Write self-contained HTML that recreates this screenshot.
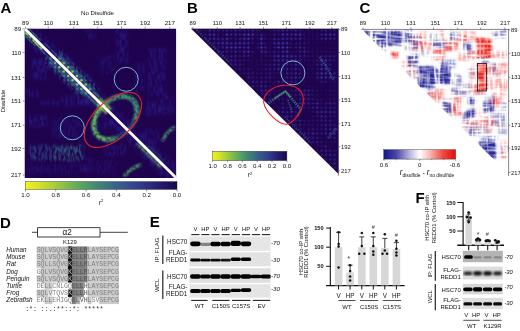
<!DOCTYPE html>
<html lang="en"><head><meta charset="utf-8"><title>Figure</title>
<style>html,body{margin:0;padding:0;background:#fff;}svg{display:block;}</style></head>
<body>
<svg width="520" height="331" viewBox="0 0 520 331" font-family='"Liberation Sans", Arial, sans-serif'>
<defs>
<filter id="b05" x="-20%" y="-20%" width="140%" height="140%"><feGaussianBlur stdDeviation="0.5"/></filter>
<filter id="b06" x="-20%" y="-40%" width="140%" height="180%"><feGaussianBlur stdDeviation="0.75 0.55"/></filter>
<filter id="b08" x="-20%" y="-20%" width="140%" height="140%"><feGaussianBlur stdDeviation="0.8"/></filter>
<filter id="b12" x="-30%" y="-30%" width="160%" height="160%"><feGaussianBlur stdDeviation="1.2"/></filter>
<filter id="b20" x="-30%" y="-30%" width="160%" height="160%"><feGaussianBlur stdDeviation="2"/></filter>
<filter id="b30" x="-40%" y="-40%" width="180%" height="180%"><feGaussianBlur stdDeviation="3"/></filter>
<linearGradient id="gv" x1="0" x2="1" y1="0" y2="0">
<stop offset="0" stop-color="#f2f21c"/><stop offset="0.1" stop-color="#d0e02a"/><stop offset="0.2" stop-color="#a2cc3c"/>
<stop offset="0.3" stop-color="#74b552"/><stop offset="0.4" stop-color="#4f9d68"/><stop offset="0.5" stop-color="#3c8079"/>
<stop offset="0.6" stop-color="#36638a"/><stop offset="0.7" stop-color="#344a8c"/><stop offset="0.8" stop-color="#2e3184"/>
<stop offset="0.9" stop-color="#24196a"/><stop offset="1" stop-color="#18084a"/></linearGradient>
<linearGradient id="gc" x1="0" x2="1" y1="0" y2="0">
<stop offset="0" stop-color="#15158a"/><stop offset="0.18" stop-color="#4a48a8"/><stop offset="0.36" stop-color="#b9b6de"/><stop offset="0.5" stop-color="#ffffff"/>
<stop offset="0.64" stop-color="#f9b8b4"/><stop offset="0.82" stop-color="#f04a44"/><stop offset="1" stop-color="#e80c08"/></linearGradient>
<clipPath id="clipA"><rect x="24.5" y="28.5" width="151.8" height="149.5"/></clipPath>
<clipPath id="clipB"><path d="M191.5 29 L338.5 29 L338.5 174 Z"/></clipPath>
<clipPath id="clipC"><path d="M362 29.6 L508.6 29.6 L508.6 174 Z"/></clipPath>
<filter id="mot" x="-5%" y="-5%" width="110%" height="110%" color-interpolation-filters="sRGB">
<feGaussianBlur in="SourceGraphic" stdDeviation="1.8" result="bl"/>
<feTurbulence type="fractalNoise" baseFrequency="0.44 0.15" numOctaves="2" seed="11" result="n"/>
<feColorMatrix in="n" type="matrix" values="0 0 0 0 1  0 0 0 0 1  0 0 0 0 1  2.4 0 0 0 -0.72" result="na"/>
<feComposite in="bl" in2="na" operator="in" result="m"/>
<feGaussianBlur in="m" stdDeviation="0.75"/></filter>
<filter id="mot2" x="-5%" y="-5%" width="110%" height="110%" color-interpolation-filters="sRGB">
<feGaussianBlur in="SourceGraphic" stdDeviation="0.6" result="bl"/>
<feTurbulence type="fractalNoise" baseFrequency="0.42 0.42" numOctaves="1" seed="5" result="n"/>
<feColorMatrix in="n" type="matrix" values="0 0 0 0 1  0 0 0 0 1  0 0 0 0 1  2.4 0 0 0 -0.35" result="na"/>
<feComposite in="bl" in2="na" operator="in" result="m"/>
<feGaussianBlur in="m" stdDeviation="0.55"/></filter>
<filter id="mot3" x="-5%" y="-5%" width="110%" height="110%" color-interpolation-filters="sRGB">
<feGaussianBlur in="SourceGraphic" stdDeviation="1.0" result="bl"/>
<feTurbulence type="fractalNoise" baseFrequency="0.36 0.36" numOctaves="1" seed="9" result="n"/>
<feColorMatrix in="n" type="matrix" values="0 0 0 0 1  0 0 0 0 1  0 0 0 0 1  2.0 0 0 0 -0.1" result="na"/>
<feComposite in="bl" in2="na" operator="in" result="m"/>
<feGaussianBlur in="m" stdDeviation="0.5"/></filter>
<filter id="motB" x="-5%" y="-5%" width="110%" height="110%" color-interpolation-filters="sRGB">
<feGaussianBlur in="SourceGraphic" stdDeviation="2.0" result="bl"/>
<feTurbulence type="fractalNoise" baseFrequency="0.46 0.46" numOctaves="1" seed="31" result="n"/>
<feColorMatrix in="n" type="matrix" values="0 0 0 0 1  0 0 0 0 1  0 0 0 0 1  3.0 0 0 0 -1.0" result="na"/>
<feComposite in="bl" in2="na" operator="in" result="m"/>
<feGaussianBlur in="m" stdDeviation="0.5"/></filter>
<filter id="mskB" x="-5%" y="-5%" width="110%" height="110%" color-interpolation-filters="sRGB">
<feGaussianBlur in="SourceGraphic" stdDeviation="2.0" result="bl"/>
<feTurbulence type="fractalNoise" baseFrequency="0.10 0.10" numOctaves="2" seed="17" result="n"/>
<feColorMatrix in="n" type="matrix" values="0 0 0 0 1  0 0 0 0 1  0 0 0 0 1  3.0 0 0 0 -0.75" result="na"/>
<feComposite in="bl" in2="na" operator="in"/></filter>
<filter id="motC" x="-5%" y="-5%" width="110%" height="110%" color-interpolation-filters="sRGB">
<feGaussianBlur in="SourceGraphic" stdDeviation="1.0" result="bl"/>
<feTurbulence type="fractalNoise" baseFrequency="0.44 0.07" numOctaves="1" seed="23" result="n1"/>
<feTurbulence type="fractalNoise" baseFrequency="0.07 0.44" numOctaves="1" seed="41" result="n2"/>
<feColorMatrix in="n1" type="matrix" values="0 0 0 0 1  0 0 0 0 1  0 0 0 0 1  3.2 0 0 0 -0.85" result="a1"/>
<feColorMatrix in="n2" type="matrix" values="0 0 0 0 1  0 0 0 0 1  0 0 0 0 1  3.2 0 0 0 -0.85" result="a2"/>
<feComposite in="a1" in2="a2" operator="arithmetic" k1="1" k2="0" k3="0" k4="0" result="na"/>
<feComposite in="bl" in2="na" operator="in" result="m"/>
<feGaussianBlur in="m" stdDeviation="0.35"/></filter>
<pattern id="dotsA" width="2.3" height="2.3" patternUnits="userSpaceOnUse"><rect x="0" y="0" width="1.3" height="1.3" fill="#3a4aa0"/></pattern>
<pattern id="dotsG" width="2.3" height="2.3" patternUnits="userSpaceOnUse"><rect x="0" y="0" width="1.4" height="1.4" fill="#4fb070"/></pattern>
<pattern id="vstr" width="2.3" height="4" patternUnits="userSpaceOnUse"><rect x="0" y="0" width="1.1" height="4" fill="#3c62a0"/></pattern>
<pattern id="vstrG" width="2.3" height="4" patternUnits="userSpaceOnUse"><rect x="0" y="0" width="1.1" height="4" fill="#58b070"/></pattern>
<pattern id="plaid" width="2.3" height="2.3" patternUnits="userSpaceOnUse"><path d="M1.9 0V2.3M0 1.9H2.3" stroke="#fff" stroke-width="0.8" opacity="0.75"/></pattern>
</defs>
<rect width="520" height="331" fill="#fff"/>
<text x="0.4" y="13.1" font-size="15" text-anchor="start" font-weight="bold" font-style="normal" fill="#000">A</text>
<text x="187.0" y="13" font-size="15" text-anchor="start" font-weight="bold" font-style="normal" fill="#000">B</text>
<text x="359.4" y="13.1" font-size="15" text-anchor="start" font-weight="bold" font-style="normal" fill="#000">C</text>
<text x="0.0" y="227.6" font-size="15" text-anchor="start" font-weight="bold" font-style="normal" fill="#000">D</text>
<text x="149.8" y="227" font-size="15" text-anchor="start" font-weight="bold" font-style="normal" fill="#000">E</text>
<text x="415.4" y="203.2" font-size="15" text-anchor="start" font-weight="bold" font-style="normal" fill="#000">F</text>
<g clip-path="url(#clipA)">
<rect x="24.50" y="28.50" width="151.80" height="149.50" fill="#1f034c" stroke="none" stroke-width="0"/>
<g filter="url(#mot)">
<rect x="19.50" y="23.50" width="161.80" height="159.50" fill="#2a1690" stroke="none" stroke-width="0" opacity="0.06"/>
<rect x="32" y="57" width="15" height="23" fill="#2e24a4" opacity="0.5"/>
<rect x="25" y="90" width="14" height="7" fill="#2e24a4" opacity="0.45"/>
<rect x="86" y="29" width="10" height="10" fill="#2e24a4" opacity="0.4"/>
<rect x="116" y="29" width="12" height="34" fill="#2e24a4" opacity="0.5"/>
<rect x="148" y="48" width="18" height="48" fill="#2e24a4" opacity="0.45"/>
<rect x="135" y="62" width="10" height="30" fill="#2e24a4" opacity="0.3"/>
<rect x="100" y="55" width="14" height="20" fill="#2e24a4" opacity="0.3"/>
<rect x="27" y="116" width="20" height="11" fill="#2e24a4" opacity="0.55"/>
<rect x="52" y="118" width="30" height="20" fill="#2e24a4" opacity="0.35"/>
<rect x="29" y="145" width="23" height="16" fill="#355aa2" opacity="0.55"/>
<rect x="53" y="145" width="30" height="16" fill="#3a7c94" opacity="0.6"/>
<rect x="80" y="158" width="13" height="14" fill="#2e24a4" opacity="0.45"/>
<rect x="28" y="164" width="50" height="10" fill="#2e24a4" opacity="0.3"/>
<rect x="146" y="101" width="15" height="14" fill="#2e24a4" opacity="0.6"/>
<rect x="143" y="130" width="16" height="16" fill="#2e24a4" opacity="0.45"/>
<rect x="104" y="144" width="22" height="12" fill="#2e24a4" opacity="0.45"/>
<rect x="96" y="160" width="20" height="14" fill="#2e24a4" opacity="0.3"/>
<rect x="160" y="95" width="14" height="20" fill="#2e24a4" opacity="0.4"/>
<rect x="60" y="96" width="30" height="8" fill="#2e24a4" opacity="0.4"/>
<rect x="95" y="122" width="18" height="6" fill="#2e24a4" opacity="0.5"/>
<rect x="40" y="100" width="50" height="6" fill="#2e24a4" opacity="0.35"/>
<line x1="28.0" y1="25.0" x2="179.8" y2="174.5" stroke="#2e24a4" stroke-width="7" opacity="0.45" stroke-linecap="round"/>
<line x1="21.0" y1="32.0" x2="172.8" y2="181.5" stroke="#2e24a4" stroke-width="7" opacity="0.5" stroke-linecap="round"/>
<line x1="59.1" y1="54.2" x2="92.5" y2="87.0" stroke="#355aa2" stroke-width="9" opacity="0.6" stroke-linecap="round"/>
<line x1="50.6" y1="62.6" x2="84.0" y2="95.5" stroke="#355aa2" stroke-width="9" opacity="0.6" stroke-linecap="round"/>
</g>
<g filter="url(#b12)">
<line x1="60.4" y1="58.8" x2="89.3" y2="87.2" stroke="#35788c" stroke-width="4.2" opacity="0.55" stroke-linecap="round"/>
<line x1="54.9" y1="64.4" x2="85.3" y2="94.3" stroke="#35788c" stroke-width="5.5" opacity="0.5" stroke-linecap="round"/>
</g>
<g filter="url(#b05)">
<circle cx="59.4" cy="58.5" r="1.25" fill="#94d048" opacity="0.50"/>
<circle cx="63.8" cy="58.5" r="1.05" fill="#3f9a80" opacity="0.28"/>
<circle cx="68.2" cy="58.5" r="1.0" fill="#3a78a0" opacity="0.12"/>
<circle cx="50.6" cy="58.5" r="1.25" fill="#94d048" opacity="0.50"/>
<circle cx="46.2" cy="58.5" r="1.1" fill="#4aa878" opacity="0.33"/>
<circle cx="41.8" cy="58.5" r="1.0" fill="#3a8090" opacity="0.17"/>
<circle cx="63.8" cy="62.9" r="1.25" fill="#94d048" opacity="0.72"/>
<circle cx="68.2" cy="62.9" r="1.05" fill="#3f9a80" opacity="0.40"/>
<circle cx="72.6" cy="62.9" r="1.0" fill="#3a78a0" opacity="0.18"/>
<circle cx="55.0" cy="62.9" r="1.25" fill="#94d048" opacity="0.72"/>
<circle cx="50.6" cy="62.9" r="1.1" fill="#4aa878" opacity="0.48"/>
<circle cx="46.2" cy="62.9" r="1.0" fill="#3a8090" opacity="0.24"/>
<circle cx="68.2" cy="67.2" r="1.25" fill="#94d048" opacity="0.90"/>
<circle cx="72.6" cy="67.2" r="1.05" fill="#3f9a80" opacity="0.50"/>
<circle cx="77.0" cy="67.2" r="1.0" fill="#3a78a0" opacity="0.22"/>
<circle cx="59.4" cy="67.2" r="1.25" fill="#94d048" opacity="0.90"/>
<circle cx="55.0" cy="67.2" r="1.1" fill="#4aa878" opacity="0.60"/>
<circle cx="50.6" cy="67.2" r="1.0" fill="#3a8090" opacity="0.30"/>
<circle cx="72.6" cy="71.5" r="1.25" fill="#94d048" opacity="0.90"/>
<circle cx="77.0" cy="71.5" r="1.05" fill="#3f9a80" opacity="0.50"/>
<circle cx="81.4" cy="71.5" r="1.0" fill="#3a78a0" opacity="0.22"/>
<circle cx="63.8" cy="71.5" r="1.25" fill="#94d048" opacity="0.90"/>
<circle cx="59.4" cy="71.5" r="1.1" fill="#4aa878" opacity="0.60"/>
<circle cx="55.0" cy="71.5" r="1.0" fill="#3a8090" opacity="0.30"/>
<circle cx="77.0" cy="75.9" r="1.25" fill="#94d048" opacity="0.90"/>
<circle cx="81.4" cy="75.9" r="1.05" fill="#3f9a80" opacity="0.50"/>
<circle cx="85.8" cy="75.9" r="1.0" fill="#3a78a0" opacity="0.22"/>
<circle cx="68.2" cy="75.9" r="1.25" fill="#94d048" opacity="0.90"/>
<circle cx="63.8" cy="75.9" r="1.1" fill="#4aa878" opacity="0.60"/>
<circle cx="59.4" cy="75.9" r="1.0" fill="#3a8090" opacity="0.30"/>
<circle cx="81.4" cy="80.2" r="1.25" fill="#94d048" opacity="0.90"/>
<circle cx="85.8" cy="80.2" r="1.05" fill="#3f9a80" opacity="0.50"/>
<circle cx="90.2" cy="80.2" r="1.0" fill="#3a78a0" opacity="0.22"/>
<circle cx="72.6" cy="80.2" r="1.25" fill="#94d048" opacity="0.90"/>
<circle cx="68.2" cy="80.2" r="1.1" fill="#4aa878" opacity="0.60"/>
<circle cx="63.8" cy="80.2" r="1.0" fill="#3a8090" opacity="0.30"/>
<circle cx="85.8" cy="84.5" r="1.25" fill="#94d048" opacity="0.90"/>
<circle cx="90.2" cy="84.5" r="1.05" fill="#3f9a80" opacity="0.50"/>
<circle cx="94.6" cy="84.5" r="1.0" fill="#3a78a0" opacity="0.22"/>
<circle cx="77.0" cy="84.5" r="1.25" fill="#94d048" opacity="0.90"/>
<circle cx="72.6" cy="84.5" r="1.1" fill="#4aa878" opacity="0.60"/>
<circle cx="68.2" cy="84.5" r="1.0" fill="#3a8090" opacity="0.30"/>
<circle cx="90.2" cy="88.9" r="1.25" fill="#94d048" opacity="0.72"/>
<circle cx="94.6" cy="88.9" r="1.05" fill="#3f9a80" opacity="0.40"/>
<circle cx="99.0" cy="88.9" r="1.0" fill="#3a78a0" opacity="0.18"/>
<circle cx="81.4" cy="88.9" r="1.25" fill="#94d048" opacity="0.72"/>
<circle cx="77.0" cy="88.9" r="1.1" fill="#4aa878" opacity="0.48"/>
<circle cx="72.6" cy="88.9" r="1.0" fill="#3a8090" opacity="0.24"/>
<circle cx="85.8" cy="93.2" r="1.25" fill="#94d048" opacity="0.50"/>
<circle cx="81.4" cy="93.2" r="1.1" fill="#4aa878" opacity="0.33"/>
<circle cx="77.0" cy="93.2" r="1.0" fill="#3a8090" opacity="0.17"/>
</g>
<g filter="url(#mot2)">
<line x1="22.7" y1="30.3" x2="41.7" y2="49.0" stroke="#84c84c" stroke-width="2.0" opacity="1" stroke-linecap="round"/>
<line x1="21.1" y1="31.9" x2="34.8" y2="45.3" stroke="#3f9a70" stroke-width="1.6" opacity="0.6" stroke-linecap="round"/>
<line x1="28.8" y1="28.7" x2="40.2" y2="39.9" stroke="#3f9a70" stroke-width="1.6" opacity="0.7" stroke-linecap="round"/>
<line x1="40.2" y1="49.0" x2="53.8" y2="62.4" stroke="#3a74a0" stroke-width="1.8" opacity="0.7" stroke-linecap="round"/>
<line x1="45.3" y1="43.9" x2="58.9" y2="57.3" stroke="#3a74a0" stroke-width="1.8" opacity="0.5" stroke-linecap="round"/>
<line x1="82.8" y1="90.7" x2="93.4" y2="101.2" stroke="#3a74a0" stroke-width="1.8" opacity="0.6" stroke-linecap="round"/>
<line x1="87.6" y1="85.9" x2="98.2" y2="96.4" stroke="#3a74a0" stroke-width="1.8" opacity="0.6" stroke-linecap="round"/>
</g><g filter="url(#mot3)">
<g transform="translate(115.4 117.9) rotate(-45)">
<ellipse cx="0" cy="0" rx="25" ry="17.6" fill="none" stroke="#357f80" stroke-width="4.6" opacity="0.6"/>
<ellipse cx="0" cy="0" rx="25" ry="17.6" fill="none" stroke="#3f9670" stroke-width="5" opacity="0.95" stroke-dasharray="22 26 200"/>
<ellipse cx="0" cy="0" rx="25" ry="17.6" fill="none" stroke="#84c84c" stroke-width="2.6" opacity="0.75" stroke-dasharray="0 52 52 200"/>
</g>
</g><g filter="url(#mot3)">
<line x1="100.1" y1="99.0" x2="110.0" y2="108.7" stroke="#a8d83c" stroke-width="2.4" opacity="1" stroke-linecap="round"/>
<line x1="96.1" y1="103.0" x2="106.0" y2="112.7" stroke="#a8d83c" stroke-width="2.4" opacity="1" stroke-linecap="round"/>
<line x1="88.8" y1="96.8" x2="97.9" y2="105.7" stroke="#3f9a70" stroke-width="2.0" opacity="0.7" stroke-linecap="round"/>
<line x1="93.8" y1="91.8" x2="102.9" y2="100.8" stroke="#3f9a70" stroke-width="2.0" opacity="0.7" stroke-linecap="round"/>
<line x1="137.7" y1="144.3" x2="160.4" y2="166.7" stroke="#62b860" stroke-width="2.2" opacity="0.95" stroke-linecap="round"/>
<line x1="148.3" y1="145.8" x2="163.5" y2="160.7" stroke="#3a74a0" stroke-width="1.6" opacity="0.6" stroke-linecap="round"/>
<path d="M162.5 141 Q166 132 175 127" fill="none" stroke="#4aa878" stroke-width="3" opacity="0.9"/>
<path d="M124 176 Q132 167.5 141 164.5" fill="none" stroke="#4aa878" stroke-width="3" opacity="0.9"/>
</g>
<line x1="22.5" y1="26.53" x2="178.3" y2="179.97" stroke="#fff" stroke-width="2.9"/>
</g>
<circle cx="126.2" cy="79.3" r="12" fill="none" stroke="#78b6dc" stroke-width="1"/>
<circle cx="72.3" cy="127.8" r="12" fill="none" stroke="#78b6dc" stroke-width="1"/>
<ellipse cx="112.9" cy="119.9" rx="35" ry="18.8" fill="none" stroke="#e8202a" stroke-width="1.1" transform="rotate(-43 112.9 119.9)"/>
<line x1="25.5" y1="26.6" x2="25.5" y2="28.5" stroke="#111" stroke-width="0.45"/>
<text x="25.5" y="24.8" font-size="6.15" text-anchor="middle" font-weight="normal" font-style="normal" fill="#111">89</text>
<line x1="48.3" y1="26.6" x2="48.3" y2="28.5" stroke="#111" stroke-width="0.45"/>
<text x="48.3" y="24.8" font-size="6.15" text-anchor="middle" font-weight="normal" font-style="normal" fill="#111">110</text>
<line x1="73.8" y1="26.6" x2="73.8" y2="28.5" stroke="#111" stroke-width="0.45"/>
<text x="73.8" y="24.8" font-size="6.15" text-anchor="middle" font-weight="normal" font-style="normal" fill="#111">131</text>
<line x1="97.8" y1="26.6" x2="97.8" y2="28.5" stroke="#111" stroke-width="0.45"/>
<text x="97.8" y="24.8" font-size="6.15" text-anchor="middle" font-weight="normal" font-style="normal" fill="#111">151</text>
<line x1="121.5" y1="26.6" x2="121.5" y2="28.5" stroke="#111" stroke-width="0.45"/>
<text x="121.5" y="24.8" font-size="6.15" text-anchor="middle" font-weight="normal" font-style="normal" fill="#111">171</text>
<line x1="145.2" y1="26.6" x2="145.2" y2="28.5" stroke="#111" stroke-width="0.45"/>
<text x="145.2" y="24.8" font-size="6.15" text-anchor="middle" font-weight="normal" font-style="normal" fill="#111">192</text>
<line x1="169.8" y1="26.6" x2="169.8" y2="28.5" stroke="#111" stroke-width="0.45"/>
<text x="169.8" y="24.8" font-size="6.15" text-anchor="middle" font-weight="normal" font-style="normal" fill="#111">217</text>
<line x1="22.6" y1="28.9" x2="24.5" y2="28.9" stroke="#111" stroke-width="0.45"/>
<text x="21.2" y="31.099999999999998" font-size="6.15" text-anchor="end" font-weight="normal" font-style="normal" fill="#111">89</text>
<line x1="22.6" y1="52.6" x2="24.5" y2="52.6" stroke="#111" stroke-width="0.45"/>
<text x="21.2" y="54.800000000000004" font-size="6.15" text-anchor="end" font-weight="normal" font-style="normal" fill="#111">110</text>
<line x1="22.6" y1="77.5" x2="24.5" y2="77.5" stroke="#111" stroke-width="0.45"/>
<text x="21.2" y="79.7" font-size="6.15" text-anchor="end" font-weight="normal" font-style="normal" fill="#111">131</text>
<line x1="22.6" y1="101" x2="24.5" y2="101" stroke="#111" stroke-width="0.45"/>
<text x="21.2" y="103.2" font-size="6.15" text-anchor="end" font-weight="normal" font-style="normal" fill="#111">151</text>
<line x1="22.6" y1="125.2" x2="24.5" y2="125.2" stroke="#111" stroke-width="0.45"/>
<text x="21.2" y="127.4" font-size="6.15" text-anchor="end" font-weight="normal" font-style="normal" fill="#111">171</text>
<line x1="22.6" y1="148.5" x2="24.5" y2="148.5" stroke="#111" stroke-width="0.45"/>
<text x="21.2" y="150.7" font-size="6.15" text-anchor="end" font-weight="normal" font-style="normal" fill="#111">192</text>
<line x1="22.6" y1="175" x2="24.5" y2="175" stroke="#111" stroke-width="0.45"/>
<text x="21.2" y="177.2" font-size="6.15" text-anchor="end" font-weight="normal" font-style="normal" fill="#111">217</text>
<text x="97.5" y="15.0" font-size="6.1" text-anchor="middle" font-weight="normal" font-style="normal" fill="#111">No Disulfide</text>
<text x="5.2" y="101" font-size="5.9" text-anchor="middle" font-weight="normal" font-style="normal" fill="#111" transform="rotate(-90 5.2 101)">Disulfide</text>
<rect x="25.20" y="181.60" width="151.80" height="7.80" fill="url(#gv)" stroke="#222" stroke-width="0.4"/>
<line x1="25.4" y1="189.4" x2="25.4" y2="191.4" stroke="#111" stroke-width="0.45"/>
<text x="25.4" y="196.7" font-size="6.15" text-anchor="middle" font-weight="normal" font-style="normal" fill="#111">1.0</text>
<line x1="55.72" y1="189.4" x2="55.72" y2="191.4" stroke="#111" stroke-width="0.45"/>
<text x="55.72" y="196.7" font-size="6.15" text-anchor="middle" font-weight="normal" font-style="normal" fill="#111">0.8</text>
<line x1="86.03999999999999" y1="189.4" x2="86.03999999999999" y2="191.4" stroke="#111" stroke-width="0.45"/>
<text x="86.03999999999999" y="196.7" font-size="6.15" text-anchor="middle" font-weight="normal" font-style="normal" fill="#111">0.6</text>
<line x1="116.36000000000001" y1="189.4" x2="116.36000000000001" y2="191.4" stroke="#111" stroke-width="0.45"/>
<text x="116.36000000000001" y="196.7" font-size="6.15" text-anchor="middle" font-weight="normal" font-style="normal" fill="#111">0.4</text>
<line x1="146.68" y1="189.4" x2="146.68" y2="191.4" stroke="#111" stroke-width="0.45"/>
<text x="146.68" y="196.7" font-size="6.15" text-anchor="middle" font-weight="normal" font-style="normal" fill="#111">0.2</text>
<line x1="177.0" y1="189.4" x2="177.0" y2="191.4" stroke="#111" stroke-width="0.45"/>
<text x="177.0" y="196.7" font-size="6.15" text-anchor="middle" font-weight="normal" font-style="normal" fill="#111">0.0</text>
<text x="101" y="204.8" font-size="6.6" text-anchor="middle" font-style="italic" fill="#111">r<tspan font-size="4.2" dy="-2.4" font-style="normal">2</tspan></text>
<g clip-path="url(#clipB)">
<rect x="191.50" y="29.00" width="147.00" height="145.00" fill="#1f034c" stroke="none" stroke-width="0"/>
<pattern id="dotB" width="4.3" height="4.3" patternUnits="userSpaceOnUse" x="190.5" y="28.2"><circle cx="2.15" cy="2.15" r="1.05" fill="#3f3cb8"/><circle cx="0" cy="2.15" r="0.6" fill="#2c2496"/><circle cx="2.15" cy="0" r="0.6" fill="#2c2496"/></pattern>
<mask id="maskB" maskUnits="userSpaceOnUse" x="185" y="25" width="160" height="155"><g filter="url(#mskB)">
<rect x="186.50" y="24.00" width="157.00" height="155.00" fill="#fff" stroke="none" stroke-width="0" opacity="0.24"/>
<rect x="220" y="30" width="46" height="26" fill="#fff" opacity="1.0"/>
<rect x="205" y="30" width="14" height="10" fill="#fff" opacity="0.68"/>
<rect x="273" y="30" width="33" height="34" fill="#fff" opacity="1.0"/>
<rect x="321" y="30" width="15" height="14" fill="#fff" opacity="0.81"/>
<rect x="268" y="62" width="32" height="22" fill="#fff" opacity="0.74"/>
<rect x="316" y="56" width="19" height="26" fill="#fff" opacity="0.94"/>
<rect x="296" y="88" width="16" height="22" fill="#fff" opacity="0.61"/>
<rect x="314" y="100" width="22" height="20" fill="#fff" opacity="0.74"/>
<rect x="322" y="122" width="14" height="16" fill="#fff" opacity="0.74"/>
<rect x="300" y="130" width="20" height="10" fill="#fff" opacity="0.54"/>
<line x1="197.2" y1="23.3" x2="344.2" y2="168.3" stroke="#fff" stroke-width="11" opacity="0.6"/>
</g></mask>
<g filter="url(#b05)"><rect x="189.5" y="27.0" width="151.0" height="149.0" fill="url(#dotB)" mask="url(#maskB)"/></g>
<g filter="url(#b05)">
<path d="M268.5 103 L285.3 91.3 L301 109.5 L297.5 116" fill="none" stroke="#3c8c88" stroke-width="2.6" opacity="0.75" stroke-linejoin="round" stroke-dasharray="1.2 1.1"/>
<path d="M275 98 L285.3 91.3 L291 97.5" fill="none" stroke="#62b868" stroke-width="1.6" opacity="0.85" stroke-dasharray="1.2 1.1"/>
<path d="M288 100 L292 112" fill="none" stroke="#3a74a0" stroke-width="1.8" opacity="0.7" stroke-dasharray="1.2 1.1"/>
<path d="M319.5 57 L326 66 L333.5 80" fill="none" stroke="#3a7c94" stroke-width="2.4" opacity="0.6" stroke-dasharray="1.2 1.1"/>
<path d="M328 138 L337 128" fill="none" stroke="#3a7c94" stroke-width="2.2" opacity="0.55" stroke-dasharray="1.2 1.1"/>
<line x1="196.6" y1="29.8" x2="230.4" y2="63.1" stroke="#3a6c9c" stroke-width="1.8" opacity="0.6" stroke-dasharray="1.2 1.4"/>
<line x1="284.8" y1="116.8" x2="311.2" y2="142.9" stroke="#3a6c9c" stroke-width="1.8" opacity="0.6" stroke-dasharray="1.2 1.4"/>
</g>
</g>
<line x1="191.0" y1="28.8" x2="338.8" y2="28.8" stroke="#111" stroke-width="0.5"/>
<line x1="338.5" y1="28.6" x2="338.5" y2="175.6" stroke="#111" stroke-width="0.5"/>
<line x1="192.8" y1="27.0" x2="192.8" y2="28.8" stroke="#111" stroke-width="0.45"/>
<text x="192.8" y="25.4" font-size="5.85" text-anchor="middle" font-weight="normal" font-style="normal" fill="#111">89</text>
<line x1="217.3" y1="27.0" x2="217.3" y2="28.8" stroke="#111" stroke-width="0.45"/>
<text x="217.3" y="25.4" font-size="5.85" text-anchor="middle" font-weight="normal" font-style="normal" fill="#111">110</text>
<line x1="240.1" y1="27.0" x2="240.1" y2="28.8" stroke="#111" stroke-width="0.45"/>
<text x="240.1" y="25.4" font-size="5.85" text-anchor="middle" font-weight="normal" font-style="normal" fill="#111">131</text>
<line x1="263.5" y1="27.0" x2="263.5" y2="28.8" stroke="#111" stroke-width="0.45"/>
<text x="263.5" y="25.4" font-size="5.85" text-anchor="middle" font-weight="normal" font-style="normal" fill="#111">151</text>
<line x1="286.4" y1="27.0" x2="286.4" y2="28.8" stroke="#111" stroke-width="0.45"/>
<text x="286.4" y="25.4" font-size="5.85" text-anchor="middle" font-weight="normal" font-style="normal" fill="#111">171</text>
<line x1="309.8" y1="27.0" x2="309.8" y2="28.8" stroke="#111" stroke-width="0.45"/>
<text x="309.8" y="25.4" font-size="5.85" text-anchor="middle" font-weight="normal" font-style="normal" fill="#111">192</text>
<line x1="331.8" y1="27.0" x2="331.8" y2="28.8" stroke="#111" stroke-width="0.45"/>
<text x="331.8" y="25.4" font-size="5.85" text-anchor="middle" font-weight="normal" font-style="normal" fill="#111">217</text>
<line x1="338.5" y1="29.3" x2="340.3" y2="29.3" stroke="#111" stroke-width="0.45"/>
<text x="340.9" y="31.400000000000002" font-size="5.85" text-anchor="start" font-weight="normal" font-style="normal" fill="#111">89</text>
<line x1="338.5" y1="52.6" x2="340.3" y2="52.6" stroke="#111" stroke-width="0.45"/>
<text x="340.9" y="54.7" font-size="5.85" text-anchor="start" font-weight="normal" font-style="normal" fill="#111">110</text>
<line x1="338.5" y1="76.7" x2="340.3" y2="76.7" stroke="#111" stroke-width="0.45"/>
<text x="340.9" y="78.8" font-size="5.85" text-anchor="start" font-weight="normal" font-style="normal" fill="#111">131</text>
<line x1="338.5" y1="99.9" x2="340.3" y2="99.9" stroke="#111" stroke-width="0.45"/>
<text x="340.9" y="102.0" font-size="5.85" text-anchor="start" font-weight="normal" font-style="normal" fill="#111">151</text>
<line x1="338.5" y1="123.8" x2="340.3" y2="123.8" stroke="#111" stroke-width="0.45"/>
<text x="340.9" y="125.89999999999999" font-size="5.85" text-anchor="start" font-weight="normal" font-style="normal" fill="#111">171</text>
<line x1="338.5" y1="146.9" x2="340.3" y2="146.9" stroke="#111" stroke-width="0.45"/>
<text x="340.9" y="149.0" font-size="5.85" text-anchor="start" font-weight="normal" font-style="normal" fill="#111">192</text>
<line x1="338.5" y1="170.9" x2="340.3" y2="170.9" stroke="#111" stroke-width="0.45"/>
<text x="340.9" y="173.0" font-size="5.85" text-anchor="start" font-weight="normal" font-style="normal" fill="#111">217</text>
<circle cx="292.9" cy="72.9" r="12" fill="none" stroke="#78b6dc" stroke-width="1"/>
<path d="M263.8 103 C262.5 96 270 86.5 284 85.3 C296 84.3 304 91 303.3 101 C302.5 111 294 123 286.5 124.2 C279.5 125.2 265.5 112 263.8 103 Z" fill="none" stroke="#e8202a" stroke-width="1.1"/>
<rect x="212.50" y="151.30" width="74.40" height="9.30" fill="url(#gv)" stroke="#222" stroke-width="0.4"/>
<line x1="212.7" y1="160.6" x2="212.7" y2="162.2" stroke="#111" stroke-width="0.45"/>
<text x="212.7" y="168.0" font-size="6.1" text-anchor="middle" font-weight="normal" font-style="normal" fill="#111">1.0</text>
<line x1="227.54" y1="160.6" x2="227.54" y2="162.2" stroke="#111" stroke-width="0.45"/>
<text x="227.54" y="168.0" font-size="6.1" text-anchor="middle" font-weight="normal" font-style="normal" fill="#111">0.8</text>
<line x1="242.38" y1="160.6" x2="242.38" y2="162.2" stroke="#111" stroke-width="0.45"/>
<text x="242.38" y="168.0" font-size="6.1" text-anchor="middle" font-weight="normal" font-style="normal" fill="#111">0.6</text>
<line x1="257.21999999999997" y1="160.6" x2="257.21999999999997" y2="162.2" stroke="#111" stroke-width="0.45"/>
<text x="257.21999999999997" y="168.0" font-size="6.1" text-anchor="middle" font-weight="normal" font-style="normal" fill="#111">0.4</text>
<line x1="272.06" y1="160.6" x2="272.06" y2="162.2" stroke="#111" stroke-width="0.45"/>
<text x="272.06" y="168.0" font-size="6.1" text-anchor="middle" font-weight="normal" font-style="normal" fill="#111">0.2</text>
<line x1="286.9" y1="160.6" x2="286.9" y2="162.2" stroke="#111" stroke-width="0.45"/>
<text x="286.9" y="168.0" font-size="6.1" text-anchor="middle" font-weight="normal" font-style="normal" fill="#111">0.0</text>
<text x="250" y="177.4" font-size="6.8" text-anchor="middle" font-style="italic" fill="#111">r<tspan font-size="4.2" dy="-2.6" font-style="normal">2</tspan></text>
<g clip-path="url(#clipC)">
<rect x="362.00" y="29.60" width="146.60" height="144.40" fill="#fff" stroke="none" stroke-width="0"/>
<g filter="url(#b12)" opacity="0.42">
<rect x="387" y="32" width="13.0" height="13.0" fill="#2a2a9a"/>
<rect x="392" y="52" width="5.0" height="6.0" fill="#ee2a24"/>
<rect x="419" y="67" width="15.0" height="20.0" fill="#2a2a9a"/>
<rect x="477" y="39" width="14.0" height="18.0" fill="#ee2a24"/>
<rect x="478.5" y="64.5" width="7.0" height="25.5" fill="#ee2a24"/>
<rect x="441" y="62" width="8.0" height="21.0" fill="#2a2a9a"/>
<rect x="466" y="110" width="8.0" height="7.0" fill="#2a2a9a"/>
<rect x="479" y="142" width="16.0" height="16.0" fill="#2a2a9a"/>
</g>
<g filter="url(#motC)">
<rect x="492.0" y="118.3" width="12.2" height="5.9" fill="#2a2a9a" opacity="0.23"/>
<rect x="467.5" y="50.1" width="11.4" height="6.1" fill="#ee2a24" opacity="0.21"/>
<rect x="499.9" y="145.9" width="7.3" height="12.7" fill="#ee2a24" opacity="0.33"/>
<rect x="487.2" y="69.4" width="7.9" height="6.3" fill="#2a2a9a" opacity="0.19"/>
<rect x="407.5" y="69.7" width="11.5" height="8.8" fill="#2a2a9a" opacity="0.29"/>
<rect x="458.3" y="36.3" width="12.8" height="5.2" fill="#ee2a24" opacity="0.37"/>
<rect x="438.6" y="71.2" width="7.5" height="6.4" fill="#2a2a9a" opacity="0.21"/>
<rect x="382.2" y="33.1" width="12.9" height="9.3" fill="#2a2a9a" opacity="0.23"/>
<rect x="427.1" y="83.5" width="5.4" height="12.3" fill="#2a2a9a" opacity="0.29"/>
<rect x="478.0" y="42.9" width="10.9" height="12.6" fill="#ee2a24" opacity="0.35"/>
<rect x="499.5" y="145.1" width="12.8" height="8.6" fill="#2a2a9a" opacity="0.34"/>
<rect x="429.0" y="68.4" width="8.2" height="6.2" fill="#2a2a9a" opacity="0.40"/>
<rect x="495.9" y="114.3" width="9.0" height="7.7" fill="#2a2a9a" opacity="0.24"/>
<rect x="469.3" y="122.0" width="10.3" height="11.1" fill="#2a2a9a" opacity="0.33"/>
<rect x="470.1" y="120.8" width="7.4" height="12.6" fill="#ee2a24" opacity="0.31"/>
<rect x="481.4" y="120.4" width="12.8" height="12.7" fill="#ee2a24" opacity="0.30"/>
<rect x="492.0" y="92.0" width="10.5" height="10.8" fill="#ee2a24" opacity="0.22"/>
<rect x="470.1" y="107.6" width="10.3" height="8.4" fill="#ee2a24" opacity="0.35"/>
<rect x="449.9" y="33.4" width="8.8" height="6.8" fill="#2a2a9a" opacity="0.21"/>
<rect x="407.2" y="53.6" width="6.5" height="5.3" fill="#2a2a9a" opacity="0.26"/>
<rect x="448.2" y="106.9" width="6.9" height="12.2" fill="#2a2a9a" opacity="0.27"/>
<rect x="413.4" y="33.1" width="9.9" height="5.8" fill="#ee2a24" opacity="0.25"/>
<rect x="474.8" y="84.2" width="11.5" height="10.1" fill="#2a2a9a" opacity="0.21"/>
<rect x="443.1" y="103.0" width="12.7" height="12.7" fill="#ee2a24" opacity="0.26"/>
<rect x="488.2" y="26.4" width="5.9" height="9.5" fill="#ee2a24" opacity="0.21"/>
<rect x="495.8" y="77.6" width="12.7" height="12.3" fill="#ee2a24" opacity="0.24"/>
<rect x="499.2" y="96.2" width="8.3" height="7.6" fill="#ee2a24" opacity="0.29"/>
<rect x="422.5" y="65.9" width="11.3" height="11.6" fill="#2a2a9a" opacity="0.30"/>
<rect x="471.9" y="62.0" width="7.1" height="6.2" fill="#ee2a24" opacity="0.24"/>
<rect x="446.0" y="92.1" width="10.2" height="9.8" fill="#ee2a24" opacity="0.21"/>
<rect x="467.8" y="69.0" width="9.3" height="7.7" fill="#2a2a9a" opacity="0.30"/>
<rect x="425.5" y="76.3" width="11.0" height="9.7" fill="#2a2a9a" opacity="0.24"/>
<rect x="487.8" y="101.2" width="5.1" height="11.2" fill="#2a2a9a" opacity="0.31"/>
<rect x="460.7" y="112.7" width="8.9" height="12.3" fill="#2a2a9a" opacity="0.27"/>
<rect x="481.6" y="52.5" width="7.4" height="11.6" fill="#2a2a9a" opacity="0.36"/>
<rect x="459.6" y="85.5" width="7.3" height="11.2" fill="#ee2a24" opacity="0.21"/>
<rect x="432.6" y="72.1" width="6.2" height="9.7" fill="#ee2a24" opacity="0.20"/>
<rect x="474.2" y="117.9" width="5.2" height="10.8" fill="#ee2a24" opacity="0.40"/>
<rect x="458.3" y="34.4" width="11.7" height="6.8" fill="#ee2a24" opacity="0.39"/>
<rect x="462.1" y="43.5" width="7.3" height="12.3" fill="#2a2a9a" opacity="0.31"/>
<rect x="419.0" y="50.7" width="10.0" height="5.3" fill="#2a2a9a" opacity="0.26"/>
<rect x="371.3" y="33.5" width="9.6" height="10.9" fill="#ee2a24" opacity="0.21"/>
<rect x="421.5" y="70.3" width="9.8" height="8.9" fill="#ee2a24" opacity="0.26"/>
<rect x="434.9" y="45.6" width="6.9" height="8.0" fill="#ee2a24" opacity="0.22"/>
<rect x="463.0" y="116.9" width="5.7" height="10.3" fill="#2a2a9a" opacity="0.21"/>
<rect x="443.1" y="59.7" width="12.0" height="8.8" fill="#2a2a9a" opacity="0.36"/>
<rect x="495.9" y="122.7" width="6.8" height="5.9" fill="#ee2a24" opacity="0.33"/>
<rect x="475.9" y="46.5" width="10.0" height="7.8" fill="#2a2a9a" opacity="0.25"/>
<rect x="447.9" y="76.4" width="8.1" height="6.1" fill="#ee2a24" opacity="0.32"/>
<rect x="472.7" y="86.7" width="11.8" height="9.1" fill="#ee2a24" opacity="0.31"/>
<rect x="466.7" y="83.3" width="5.8" height="5.3" fill="#2a2a9a" opacity="0.19"/>
<rect x="485.0" y="95.4" width="11.1" height="5.0" fill="#2a2a9a" opacity="0.38"/>
<rect x="448.4" y="87.7" width="8.7" height="5.8" fill="#2a2a9a" opacity="0.21"/>
<rect x="485.7" y="48.5" width="7.0" height="7.2" fill="#2a2a9a" opacity="0.24"/>
<rect x="464.8" y="51.1" width="6.6" height="5.2" fill="#2a2a9a" opacity="0.20"/>
<rect x="412.6" y="70.7" width="8.7" height="7.3" fill="#ee2a24" opacity="0.34"/>
<rect x="450.0" y="88.3" width="12.8" height="5.1" fill="#2a2a9a" opacity="0.35"/>
<rect x="418.7" y="30.8" width="9.4" height="12.9" fill="#ee2a24" opacity="0.26"/>
<rect x="373.0" y="36.4" width="12.2" height="8.9" fill="#ee2a24" opacity="0.19"/>
<rect x="396.0" y="35.3" width="8.2" height="5.5" fill="#2a2a9a" opacity="0.27"/>
<rect x="406.2" y="31.7" width="5.3" height="12.8" fill="#2a2a9a" opacity="0.29"/>
<rect x="489.1" y="110.8" width="11.9" height="6.7" fill="#2a2a9a" opacity="0.30"/>
<rect x="478.7" y="58.4" width="5.9" height="7.5" fill="#2a2a9a" opacity="0.35"/>
<rect x="477.7" y="71.7" width="6.0" height="5.7" fill="#2a2a9a" opacity="0.20"/>
<rect x="395.1" y="36.8" width="10.6" height="5.4" fill="#2a2a9a" opacity="0.24"/>
<rect x="414.1" y="40.9" width="8.4" height="7.5" fill="#ee2a24" opacity="0.30"/>
<rect x="485.9" y="117.1" width="11.1" height="9.6" fill="#2a2a9a" opacity="0.36"/>
<rect x="464.4" y="122.7" width="7.1" height="11.5" fill="#2a2a9a" opacity="0.21"/>
<rect x="400.4" y="35.1" width="11.1" height="9.5" fill="#2a2a9a" opacity="0.19"/>
<rect x="447.5" y="59.2" width="8.4" height="7.9" fill="#2a2a9a" opacity="0.18"/>
<rect x="364" y="30" width="22.0" height="22.0" fill="#2a2a9a" opacity="0.828"/>
<rect x="372" y="30" width="13.0" height="16.0" fill="#2a2a9a" opacity="0.69"/>
<rect x="387" y="32" width="13.0" height="13.0" fill="#2a2a9a" opacity="0.9"/>
<rect x="386" y="31" width="15.0" height="15.0" fill="#2a2a9a" opacity="0.8624999999999999"/>
<rect x="402" y="30" width="10.0" height="10.0" fill="#2a2a9a" opacity="0.8049999999999999"/>
<rect x="410" y="37" width="15.0" height="14.0" fill="#ee2a24" opacity="0.5175"/>
<rect x="405" y="35" width="15.0" height="15.0" fill="#2a2a9a" opacity="0.5175"/>
<rect x="392" y="52" width="5.0" height="6.0" fill="#ee2a24" opacity="0.9"/>
<rect x="391" y="51" width="7.0" height="8.0" fill="#ee2a24" opacity="0.9199999999999999"/>
<rect x="422" y="42" width="13.0" height="9.0" fill="#ee2a24" opacity="0.45999999999999996"/>
<rect x="407" y="54" width="11.0" height="13.0" fill="#2a2a9a" opacity="0.8049999999999999"/>
<rect x="419" y="67" width="15.0" height="20.0" fill="#2a2a9a" opacity="0.9"/>
<rect x="418" y="66" width="17.0" height="22.0" fill="#2a2a9a" opacity="0.8624999999999999"/>
<rect x="421" y="73" width="9.0" height="12.0" fill="#2a2a9a" opacity="0.575"/>
<rect x="402" y="61" width="11.0" height="12.0" fill="#ee2a24" opacity="0.345"/>
<rect x="427" y="92" width="9.0" height="6.0" fill="#ee2a24" opacity="0.575"/>
<rect x="430" y="33" width="8.0" height="7.0" fill="#2a2a9a" opacity="0.69"/>
<rect x="438" y="30" width="7.0" height="10.0" fill="#ee2a24" opacity="0.40249999999999997"/>
<rect x="448" y="31" width="10.0" height="8.0" fill="#2a2a9a" opacity="0.69"/>
<rect x="432" y="40" width="13.0" height="8.0" fill="#2a2a9a" opacity="0.69"/>
<rect x="432" y="49" width="13.0" height="11.0" fill="#ee2a24" opacity="0.69"/>
<rect x="445" y="40" width="13.0" height="11.0" fill="#ee2a24" opacity="0.7474999999999999"/>
<rect x="463" y="43" width="9.0" height="8.0" fill="#2a2a9a" opacity="0.69"/>
<rect x="477" y="39" width="14.0" height="18.0" fill="#ee2a24" opacity="0.9"/>
<rect x="476" y="38" width="16.0" height="20.0" fill="#ee2a24" opacity="1.0"/>
<rect x="479" y="42" width="10.0" height="12.0" fill="#ee2a24" opacity="0.575"/>
<rect x="478.5" y="64.5" width="7.0" height="25.5" fill="#ee2a24" opacity="0.9"/>
<rect x="477.5" y="63.5" width="9.0" height="27.5" fill="#ee2a24" opacity="0.9774999999999999"/>
<rect x="494" y="63" width="13.0" height="13.0" fill="#ee2a24" opacity="0.45999999999999996"/>
<rect x="493" y="30" width="14.0" height="8.0" fill="#2a2a9a" opacity="0.5175"/>
<rect x="441" y="62" width="8.0" height="21.0" fill="#2a2a9a" opacity="0.9"/>
<rect x="440" y="61" width="10.0" height="23.0" fill="#2a2a9a" opacity="0.9774999999999999"/>
<rect x="430" y="69" width="10.0" height="15.0" fill="#2a2a9a" opacity="0.69"/>
<rect x="450" y="74" width="13.0" height="10.0" fill="#2a2a9a" opacity="0.45999999999999996"/>
<rect x="435" y="89" width="10.0" height="10.0" fill="#ee2a24" opacity="0.45999999999999996"/>
<rect x="468" y="97" width="8.0" height="8.0" fill="#2a2a9a" opacity="0.69"/>
<rect x="489" y="99" width="10.0" height="8.0" fill="#ee2a24" opacity="0.69"/>
<rect x="490" y="63" width="7.0" height="13.0" fill="#2a2a9a" opacity="0.345"/>
<rect x="458" y="51" width="18.0" height="10.0" fill="#ee2a24" opacity="0.40249999999999997"/>
<rect x="489" y="51" width="18.0" height="7.0" fill="#ee2a24" opacity="0.40249999999999997"/>
<rect x="486" y="66" width="8.0" height="24.0" fill="#ee2a24" opacity="0.40249999999999997"/>
<rect x="470" y="66" width="8.0" height="26.0" fill="#ee2a24" opacity="0.345"/>
<rect x="443" y="100" width="8.0" height="13.0" fill="#2a2a9a" opacity="0.8049999999999999"/>
<rect x="453" y="97.5" width="9.0" height="18.0" fill="#ee2a24" opacity="0.69"/>
<rect x="469" y="97.5" width="6.0" height="6.5" fill="#2a2a9a" opacity="0.6325"/>
<rect x="466" y="110" width="8.0" height="7.0" fill="#2a2a9a" opacity="0.9"/>
<rect x="465" y="109" width="10.0" height="9.0" fill="#2a2a9a" opacity="0.9199999999999999"/>
<rect x="483" y="101.5" width="11.5" height="11.5" fill="#2a2a9a" opacity="0.8049999999999999"/>
<rect x="433" y="95" width="7.5" height="8.0" fill="#ee2a24" opacity="0.40249999999999997"/>
<rect x="480" y="117" width="14.5" height="11.0" fill="#ee2a24" opacity="0.45999999999999996"/>
<rect x="462" y="120" width="9.0" height="8.0" fill="#ee2a24" opacity="0.40249999999999997"/>
<rect x="469" y="131" width="10.0" height="6.0" fill="#2a2a9a" opacity="0.5175"/>
<rect x="479" y="142" width="16.0" height="16.0" fill="#2a2a9a" opacity="0.9"/>
<rect x="478" y="141" width="18.0" height="18.0" fill="#2a2a9a" opacity="1.0"/>
<rect x="481.6" y="136" width="15.4" height="5.0" fill="#2a2a9a" opacity="0.69"/>
<rect x="502" y="100" width="4.0" height="20.0" fill="#2a2a9a" opacity="0.45999999999999996"/>
<rect x="497" y="95" width="8.0" height="5.0" fill="#ee2a24" opacity="0.45999999999999996"/>
<rect x="455" y="84" width="15.0" height="12.0" fill="#2a2a9a" opacity="0.345"/>
<rect x="495" y="78" width="12.0" height="17.0" fill="#ee2a24" opacity="0.2875"/>
<rect x="460" y="30" width="16.0" height="12.0" fill="#ee2a24" opacity="0.2875"/>
<rect x="498" y="120" width="9.0" height="15.0" fill="#2a2a9a" opacity="0.345"/>
<rect x="470" y="125" width="20.0" height="10.0" fill="#2a2a9a" opacity="0.22999999999999998"/>
<rect x="500" y="140" width="7.0" height="20.0" fill="#ee2a24" opacity="0.22999999999999998"/>
<rect x="412" y="88" width="10.0" height="10.0" fill="#2a2a9a" opacity="0.345"/>
</g>
</g>
<line x1="361.5" y1="29.4" x2="508.90000000000003" y2="29.4" stroke="#111" stroke-width="0.5"/>
<line x1="508.6" y1="29.2" x2="508.6" y2="176" stroke="#111" stroke-width="0.5"/>
<line x1="363" y1="27.6" x2="363" y2="29.4" stroke="#111" stroke-width="0.45"/>
<text x="363" y="25.4" font-size="5.85" text-anchor="middle" font-weight="normal" font-style="normal" fill="#111">89</text>
<line x1="385.5" y1="27.6" x2="385.5" y2="29.4" stroke="#111" stroke-width="0.45"/>
<text x="385.5" y="25.4" font-size="5.85" text-anchor="middle" font-weight="normal" font-style="normal" fill="#111">110</text>
<line x1="411" y1="27.6" x2="411" y2="29.4" stroke="#111" stroke-width="0.45"/>
<text x="411" y="25.4" font-size="5.85" text-anchor="middle" font-weight="normal" font-style="normal" fill="#111">131</text>
<line x1="433.5" y1="27.6" x2="433.5" y2="29.4" stroke="#111" stroke-width="0.45"/>
<text x="435.5" y="25.4" font-size="5.85" text-anchor="middle" font-weight="normal" font-style="normal" fill="#111">151</text>
<line x1="457.6" y1="27.6" x2="457.6" y2="29.4" stroke="#111" stroke-width="0.45"/>
<text x="458.40000000000003" y="25.4" font-size="5.85" text-anchor="middle" font-weight="normal" font-style="normal" fill="#111">171</text>
<line x1="480.8" y1="27.6" x2="480.8" y2="29.4" stroke="#111" stroke-width="0.45"/>
<text x="482.0" y="25.4" font-size="5.85" text-anchor="middle" font-weight="normal" font-style="normal" fill="#111">192</text>
<line x1="504.8" y1="27.6" x2="504.8" y2="29.4" stroke="#111" stroke-width="0.45"/>
<text x="505.1" y="25.4" font-size="5.85" text-anchor="middle" font-weight="normal" font-style="normal" fill="#111">217</text>
<line x1="508.6" y1="29.8" x2="510.40000000000003" y2="29.8" stroke="#111" stroke-width="0.45"/>
<text x="511.0" y="31.900000000000002" font-size="5.85" text-anchor="start" font-weight="normal" font-style="normal" fill="#111">89</text>
<line x1="508.6" y1="53.4" x2="510.40000000000003" y2="53.4" stroke="#111" stroke-width="0.45"/>
<text x="511.0" y="55.5" font-size="5.85" text-anchor="start" font-weight="normal" font-style="normal" fill="#111">110</text>
<line x1="508.6" y1="77.3" x2="510.40000000000003" y2="77.3" stroke="#111" stroke-width="0.45"/>
<text x="511.0" y="79.39999999999999" font-size="5.85" text-anchor="start" font-weight="normal" font-style="normal" fill="#111">131</text>
<line x1="508.6" y1="101" x2="510.40000000000003" y2="101" stroke="#111" stroke-width="0.45"/>
<text x="511.0" y="103.1" font-size="5.85" text-anchor="start" font-weight="normal" font-style="normal" fill="#111">151</text>
<line x1="508.6" y1="125.3" x2="510.40000000000003" y2="125.3" stroke="#111" stroke-width="0.45"/>
<text x="511.0" y="127.39999999999999" font-size="5.85" text-anchor="start" font-weight="normal" font-style="normal" fill="#111">171</text>
<line x1="508.6" y1="148.3" x2="510.40000000000003" y2="148.3" stroke="#111" stroke-width="0.45"/>
<text x="511.0" y="150.4" font-size="5.85" text-anchor="start" font-weight="normal" font-style="normal" fill="#111">192</text>
<line x1="508.6" y1="172.5" x2="510.40000000000003" y2="172.5" stroke="#111" stroke-width="0.45"/>
<text x="511.0" y="174.6" font-size="5.85" text-anchor="start" font-weight="normal" font-style="normal" fill="#111">217</text>
<rect x="477.50" y="63.50" width="9.00" height="27.50" fill="none" stroke="#111" stroke-width="0.8"/>
<rect x="383.80" y="149.70" width="71.80" height="9.40" fill="url(#gc)" stroke="#222" stroke-width="0.4"/>
<line x1="384.0" y1="159.1" x2="384.0" y2="160.8" stroke="#111" stroke-width="0.4"/>
<line x1="395.93" y1="159.1" x2="395.93" y2="160.2" stroke="#111" stroke-width="0.4"/>
<line x1="407.86" y1="159.1" x2="407.86" y2="160.2" stroke="#111" stroke-width="0.4"/>
<line x1="419.79" y1="159.1" x2="419.79" y2="160.8" stroke="#111" stroke-width="0.4"/>
<line x1="431.72" y1="159.1" x2="431.72" y2="160.2" stroke="#111" stroke-width="0.4"/>
<line x1="443.65" y1="159.1" x2="443.65" y2="160.2" stroke="#111" stroke-width="0.4"/>
<line x1="455.58" y1="159.1" x2="455.58" y2="160.8" stroke="#111" stroke-width="0.4"/>
<text x="384" y="167.2" font-size="6.1" text-anchor="middle" font-weight="normal" font-style="normal" fill="#111">0.6</text>
<text x="419.8" y="167.2" font-size="6.1" text-anchor="middle" font-weight="normal" font-style="normal" fill="#111">0</text>
<text x="455" y="167.2" font-size="6.1" text-anchor="middle" font-weight="normal" font-style="normal" fill="#111">-0.6</text>
<text x="399.8" y="175.0" font-size="8.2" fill="#111"><tspan font-style="italic">r</tspan><tspan font-size="4.9" dy="1.8">disulfide</tspan><tspan dy="-1.8" font-size="7"> - </tspan><tspan font-style="italic" font-size="8.2">r</tspan><tspan font-size="4.9" dy="1.8">no disulfide</tspan></text>
<line x1="32" y1="232.3" x2="127.8" y2="232.3" stroke="#111" stroke-width="0.8"/>
<rect x="37.60" y="227.70" width="62.40" height="9.30" fill="#fff" stroke="#111" stroke-width="0.8"/>
<text x="67.2" y="235.4" font-size="8.2" text-anchor="middle" font-weight="normal" font-style="normal" fill="#111">α2</text>
<text x="70" y="244.4" font-size="5.9" text-anchor="middle" font-weight="normal" font-style="normal" fill="#111">K129</text>
<rect x="36.60" y="246.40" width="31.52" height="7.30" fill="#cbcbcb" stroke="none" stroke-width="0"/>
<rect x="67.92" y="246.40" width="4.12" height="7.30" fill="#0a0a0a" stroke="none" stroke-width="0"/>
<rect x="71.84" y="246.40" width="15.86" height="7.30" fill="#808080" stroke="none" stroke-width="0"/>
<rect x="87.50" y="246.40" width="31.52" height="7.30" fill="#cbcbcb" stroke="none" stroke-width="0"/>
<rect x="36.60" y="253.60" width="31.52" height="7.30" fill="#cbcbcb" stroke="none" stroke-width="0"/>
<rect x="67.92" y="253.60" width="4.12" height="7.30" fill="#0a0a0a" stroke="none" stroke-width="0"/>
<rect x="71.84" y="253.60" width="15.86" height="7.30" fill="#808080" stroke="none" stroke-width="0"/>
<rect x="87.50" y="253.60" width="31.52" height="7.30" fill="#cbcbcb" stroke="none" stroke-width="0"/>
<rect x="36.60" y="260.80" width="31.52" height="7.30" fill="#cbcbcb" stroke="none" stroke-width="0"/>
<rect x="67.92" y="260.80" width="4.12" height="7.30" fill="#0a0a0a" stroke="none" stroke-width="0"/>
<rect x="71.84" y="260.80" width="15.86" height="7.30" fill="#808080" stroke="none" stroke-width="0"/>
<rect x="87.50" y="260.80" width="31.52" height="7.30" fill="#cbcbcb" stroke="none" stroke-width="0"/>
<rect x="40.52" y="268.00" width="27.61" height="7.30" fill="#cbcbcb" stroke="none" stroke-width="0"/>
<rect x="67.92" y="268.00" width="4.12" height="7.30" fill="#0a0a0a" stroke="none" stroke-width="0"/>
<rect x="71.84" y="268.00" width="15.86" height="7.30" fill="#808080" stroke="none" stroke-width="0"/>
<rect x="87.50" y="268.00" width="31.52" height="7.30" fill="#cbcbcb" stroke="none" stroke-width="0"/>
<rect x="36.60" y="275.20" width="31.52" height="7.30" fill="#cbcbcb" stroke="none" stroke-width="0"/>
<rect x="67.92" y="275.20" width="4.12" height="7.30" fill="#0a0a0a" stroke="none" stroke-width="0"/>
<rect x="71.84" y="275.20" width="15.86" height="7.30" fill="#808080" stroke="none" stroke-width="0"/>
<rect x="87.50" y="275.20" width="31.52" height="7.30" fill="#cbcbcb" stroke="none" stroke-width="0"/>
<rect x="44.43" y="282.40" width="8.03" height="7.30" fill="#cbcbcb" stroke="none" stroke-width="0"/>
<rect x="71.84" y="282.40" width="11.95" height="7.30" fill="#808080" stroke="none" stroke-width="0"/>
<rect x="87.50" y="282.40" width="31.52" height="7.30" fill="#cbcbcb" stroke="none" stroke-width="0"/>
<rect x="36.60" y="289.60" width="11.95" height="7.30" fill="#cbcbcb" stroke="none" stroke-width="0"/>
<rect x="48.35" y="289.60" width="4.12" height="7.30" fill="#e4e4e4" stroke="none" stroke-width="0"/>
<rect x="67.92" y="289.60" width="4.12" height="7.30" fill="#0a0a0a" stroke="none" stroke-width="0"/>
<rect x="71.84" y="289.60" width="11.95" height="7.30" fill="#808080" stroke="none" stroke-width="0"/>
<rect x="87.50" y="289.60" width="31.52" height="7.30" fill="#cbcbcb" stroke="none" stroke-width="0"/>
<rect x="44.43" y="296.80" width="8.03" height="7.30" fill="#cbcbcb" stroke="none" stroke-width="0"/>
<rect x="71.84" y="296.80" width="4.12" height="7.30" fill="#808080" stroke="none" stroke-width="0"/>
<rect x="75.75" y="296.80" width="4.12" height="7.30" fill="#b0b0b0" stroke="none" stroke-width="0"/>
<rect x="87.50" y="296.80" width="4.12" height="7.30" fill="#cbcbcb" stroke="none" stroke-width="0"/>
<rect x="99.24" y="296.80" width="19.77" height="7.30" fill="#cbcbcb" stroke="none" stroke-width="0"/>
<text x="6.3" y="252.0" font-size="6.3" text-anchor="start" font-weight="normal" font-style="italic" fill="#111">Human</text>
<text x="36.7" y="251.90" font-size="6.52" font-family='"Liberation Mono", "DejaVu Sans Mono", monospace' fill="#7e7e7e" xml:space="preserve" textLength="82.22" lengthAdjust="spacing">SQLVSQVG<tspan fill="#c8c8c8">K</tspan><tspan fill="#505050">ELLR</tspan>LAYSEPCG</text>
<text x="6.3" y="259.2" font-size="6.3" text-anchor="start" font-weight="normal" font-style="italic" fill="#111">Mouse</text>
<text x="36.7" y="259.10" font-size="6.52" font-family='"Liberation Mono", "DejaVu Sans Mono", monospace' fill="#7e7e7e" xml:space="preserve" textLength="82.22" lengthAdjust="spacing">SQLVSQVG<tspan fill="#c8c8c8">K</tspan><tspan fill="#505050">ELLR</tspan>LAYSEPCG</text>
<text x="6.3" y="266.40000000000003" font-size="6.3" text-anchor="start" font-weight="normal" font-style="italic" fill="#111">Rat</text>
<text x="36.7" y="266.30" font-size="6.52" font-family='"Liberation Mono", "DejaVu Sans Mono", monospace' fill="#7e7e7e" xml:space="preserve" textLength="82.22" lengthAdjust="spacing">SQLLSQVG<tspan fill="#c8c8c8">K</tspan><tspan fill="#505050">ELLR</tspan>LAYSEPCG</text>
<text x="6.3" y="273.6" font-size="6.3" text-anchor="start" font-weight="normal" font-style="italic" fill="#111">Dog</text>
<text x="36.7" y="273.50" font-size="6.52" font-family='"Liberation Mono", "DejaVu Sans Mono", monospace' fill="#7e7e7e" xml:space="preserve" textLength="82.22" lengthAdjust="spacing">GQLVSQVG<tspan fill="#c8c8c8">K</tspan><tspan fill="#505050">ELLR</tspan>LAYSEPCG</text>
<text x="6.3" y="280.8" font-size="6.3" text-anchor="start" font-weight="normal" font-style="italic" fill="#111">Penguin</text>
<text x="36.7" y="280.70" font-size="6.52" font-family='"Liberation Mono", "DejaVu Sans Mono", monospace' fill="#7e7e7e" xml:space="preserve" textLength="82.22" lengthAdjust="spacing">SQLVSQVG<tspan fill="#c8c8c8">K</tspan><tspan fill="#505050">ELLR</tspan>LAYSEPCG</text>
<text x="6.3" y="288.0" font-size="6.3" text-anchor="start" font-weight="normal" font-style="italic" fill="#111">Turtle</text>
<text x="36.7" y="287.90" font-size="6.52" font-family='"Liberation Mono", "DejaVu Sans Mono", monospace' fill="#7e7e7e" xml:space="preserve" textLength="82.22" lengthAdjust="spacing">DELLCNLGQ<tspan fill="#505050">ELLH</tspan>LAYSEPCG</text>
<text x="6.3" y="295.20000000000005" font-size="6.3" text-anchor="start" font-weight="normal" font-style="italic" fill="#111">Frog</text>
<text x="36.7" y="295.10" font-size="6.52" font-family='"Liberation Mono", "DejaVu Sans Mono", monospace' fill="#7e7e7e" xml:space="preserve" textLength="82.22" lengthAdjust="spacing">SQLVTQVS<tspan fill="#c8c8c8">K</tspan><tspan fill="#505050">ELLH</tspan>LAYSEPCG</text>
<text x="6.3" y="302.40000000000003" font-size="6.3" text-anchor="start" font-weight="normal" font-style="italic" fill="#111">Zebrafish</text>
<text x="36.7" y="302.30" font-size="6.52" font-family='"Liberation Mono", "DejaVu Sans Mono", monospace' fill="#7e7e7e" xml:space="preserve" textLength="82.22" lengthAdjust="spacing">EKLLEHIGQ<tspan fill="#505050">ELVH</tspan>LSVSEPCG</text>
<text x="25.2" y="310.90" font-size="6.52" font-family='"Liberation Mono", "DejaVu Sans Mono", monospace' fill="#333" xml:space="preserve" textLength="78.30" lengthAdjust="spacing">:*: ::.:**::*: *****</text>
<text x="195.4" y="231.3" font-size="5.8" text-anchor="middle" font-weight="normal" font-style="normal" fill="#111">V</text>
<line x1="191.3" y1="234.6" x2="199.5" y2="234.6" stroke="#222" stroke-width="1.1"/>
<text x="205.4" y="231.3" font-size="5.8" text-anchor="middle" font-weight="normal" font-style="normal" fill="#111">HP</text>
<line x1="201.3" y1="234.6" x2="209.5" y2="234.6" stroke="#222" stroke-width="1.1"/>
<text x="215.5" y="231.3" font-size="5.8" text-anchor="middle" font-weight="normal" font-style="normal" fill="#111">V</text>
<line x1="211.4" y1="234.6" x2="219.6" y2="234.6" stroke="#222" stroke-width="1.1"/>
<text x="225.6" y="231.3" font-size="5.8" text-anchor="middle" font-weight="normal" font-style="normal" fill="#111">HP</text>
<line x1="221.5" y1="234.6" x2="229.7" y2="234.6" stroke="#222" stroke-width="1.1"/>
<text x="235.8" y="231.3" font-size="5.8" text-anchor="middle" font-weight="normal" font-style="normal" fill="#111">V</text>
<line x1="231.70000000000002" y1="234.6" x2="239.9" y2="234.6" stroke="#222" stroke-width="1.1"/>
<text x="246.0" y="231.3" font-size="5.8" text-anchor="middle" font-weight="normal" font-style="normal" fill="#111">HP</text>
<line x1="241.9" y1="234.6" x2="250.1" y2="234.6" stroke="#222" stroke-width="1.1"/>
<text x="256.0" y="231.3" font-size="5.8" text-anchor="middle" font-weight="normal" font-style="normal" fill="#111">V</text>
<line x1="251.9" y1="234.6" x2="260.1" y2="234.6" stroke="#222" stroke-width="1.1"/>
<text x="266.0" y="231.3" font-size="5.8" text-anchor="middle" font-weight="normal" font-style="normal" fill="#111">HP</text>
<line x1="261.9" y1="234.6" x2="270.1" y2="234.6" stroke="#222" stroke-width="1.1"/>
<rect x="189.40" y="236.50" width="81.20" height="14.40" fill="#e6e6e6" stroke="none" stroke-width="0"/>
<rect x="189.40" y="252.20" width="81.20" height="14.10" fill="#e2e2e2" stroke="none" stroke-width="0"/>
<rect x="189.40" y="268.20" width="81.20" height="14.60" fill="#dedede" stroke="none" stroke-width="0"/>
<rect x="189.40" y="284.20" width="81.20" height="13.40" fill="#e4e4e4" stroke="none" stroke-width="0"/>
<clipPath id="clipE"><rect x="189.4" y="236" width="81.20000000000002" height="63"/></clipPath><g clip-path="url(#clipE)">
<rect x="190.20" y="241.45" width="10.40" height="4.70" rx="2.14" fill="#000" opacity="1" filter="url(#b06)"/>
<rect x="200.20" y="242.85" width="10.40" height="3.10" rx="1.41" fill="#000" opacity="0.42" filter="url(#b06)"/>
<rect x="210.30" y="241.75" width="10.40" height="4.50" rx="2.05" fill="#000" opacity="1" filter="url(#b06)"/>
<rect x="220.40" y="241.85" width="10.40" height="4.30" rx="1.95" fill="#000" opacity="1" filter="url(#b06)"/>
<rect x="230.60" y="240.85" width="10.40" height="5.10" rx="2.32" fill="#000" opacity="1" filter="url(#b06)"/>
<rect x="240.80" y="241.45" width="10.40" height="4.70" rx="2.14" fill="#000" opacity="1" filter="url(#b06)"/>
<rect x="190.30" y="258.60" width="10.20" height="3.00" rx="1.36" fill="#000" opacity="1" filter="url(#b06)"/>
<rect x="200.30" y="258.70" width="10.20" height="2.80" rx="1.27" fill="#000" opacity="0.95" filter="url(#b06)"/>
<rect x="210.40" y="258.70" width="10.20" height="2.80" rx="1.27" fill="#000" opacity="0.95" filter="url(#b06)"/>
<rect x="220.50" y="258.70" width="10.20" height="2.80" rx="1.27" fill="#000" opacity="0.9" filter="url(#b06)"/>
<rect x="230.70" y="257.40" width="10.20" height="3.60" rx="1.64" fill="#000" opacity="1" filter="url(#b06)"/>
<rect x="240.90" y="257.60" width="10.20" height="3.40" rx="1.55" fill="#000" opacity="1" filter="url(#b06)"/>
<rect x="190.10" y="274.35" width="10.60" height="4.30" rx="1.95" fill="#000" opacity="1" filter="url(#b06)"/>
<rect x="200.10" y="274.45" width="10.60" height="4.10" rx="1.86" fill="#000" opacity="1" filter="url(#b06)"/>
<rect x="210.20" y="274.35" width="10.60" height="4.30" rx="1.95" fill="#000" opacity="1" filter="url(#b06)"/>
<rect x="220.30" y="274.25" width="10.60" height="4.50" rx="2.05" fill="#000" opacity="1" filter="url(#b06)"/>
<rect x="230.50" y="274.25" width="10.60" height="4.50" rx="2.05" fill="#000" opacity="1" filter="url(#b06)"/>
<rect x="240.70" y="274.25" width="10.60" height="4.50" rx="2.05" fill="#000" opacity="1" filter="url(#b06)"/>
<rect x="250.70" y="274.65" width="10.60" height="3.70" rx="1.68" fill="#000" opacity="1" filter="url(#b06)"/>
<rect x="260.70" y="274.55" width="10.60" height="3.90" rx="1.77" fill="#000" opacity="1" filter="url(#b06)"/>
<rect x="190.20" y="288.95" width="10.40" height="4.10" rx="1.86" fill="#000" opacity="1" filter="url(#b06)"/>
<rect x="200.20" y="288.95" width="10.40" height="4.10" rx="1.86" fill="#000" opacity="1" filter="url(#b06)"/>
<rect x="210.30" y="288.95" width="10.40" height="4.10" rx="1.86" fill="#000" opacity="1" filter="url(#b06)"/>
<rect x="220.40" y="288.95" width="10.40" height="4.10" rx="1.86" fill="#000" opacity="1" filter="url(#b06)"/>
<rect x="230.60" y="288.75" width="10.40" height="3.30" rx="1.50" fill="#000" opacity="1" filter="url(#b06)"/>
<rect x="240.80" y="288.35" width="10.40" height="3.70" rx="1.68" fill="#000" opacity="1" filter="url(#b06)"/>
</g>
<text x="187.4" y="244.2" font-size="6.3" text-anchor="end" font-weight="normal" font-style="normal" fill="#111">HSC70</text>
<text x="187.4" y="255.4" font-size="6.3" text-anchor="end" font-weight="normal" font-style="normal" fill="#111">FLAG-</text>
<text x="187.4" y="262.0" font-size="6.3" text-anchor="end" font-weight="normal" font-style="normal" fill="#111">REDD1</text>
<text x="187.4" y="278.6" font-size="6.3" text-anchor="end" font-weight="normal" font-style="normal" fill="#111">HSC70</text>
<text x="187.4" y="289.2" font-size="6.3" text-anchor="end" font-weight="normal" font-style="normal" fill="#111">FLAG-</text>
<text x="187.4" y="296.0" font-size="6.3" text-anchor="end" font-weight="normal" font-style="normal" fill="#111">REDD1</text>
<line x1="162.8" y1="235.4" x2="162.8" y2="264" stroke="#222" stroke-width="1.2"/>
<line x1="162.8" y1="270.6" x2="162.8" y2="299" stroke="#222" stroke-width="1.2"/>
<text x="159.4" y="249.8" font-size="6.0" text-anchor="middle" font-weight="normal" font-style="normal" fill="#111" transform="rotate(-90 159.4 249.8)">IP: FLAG</text>
<text x="159.4" y="285.4" font-size="6.0" text-anchor="middle" font-weight="normal" font-style="normal" fill="#111" transform="rotate(-90 159.4 285.4)">WCL</text>
<text x="271.0" y="245.0" font-size="6.2" text-anchor="start" font-weight="normal" font-style="italic" fill="#111">-70</text>
<text x="271.0" y="262.0" font-size="6.2" text-anchor="start" font-weight="normal" font-style="italic" fill="#111">-30</text>
<text x="271.0" y="277.7" font-size="6.2" text-anchor="start" font-weight="normal" font-style="italic" fill="#111">-70</text>
<text x="271.0" y="291.0" font-size="6.2" text-anchor="start" font-weight="normal" font-style="italic" fill="#111">-30</text>
<line x1="191.2" y1="300.4" x2="207.6" y2="300.4" stroke="#222" stroke-width="1.1"/>
<text x="199.39999999999998" y="307.9" font-size="6.0" text-anchor="middle" font-weight="normal" font-style="normal" fill="#111">WT</text>
<line x1="212.3" y1="300.4" x2="229.5" y2="300.4" stroke="#222" stroke-width="1.1"/>
<text x="220.9" y="307.9" font-size="6.0" text-anchor="middle" font-weight="normal" font-style="normal" fill="#111">C150S</text>
<line x1="232" y1="300.4" x2="250.4" y2="300.4" stroke="#222" stroke-width="1.1"/>
<text x="241.2" y="307.9" font-size="6.0" text-anchor="middle" font-weight="normal" font-style="normal" fill="#111">C157S</text>
<line x1="252.8" y1="300.4" x2="270.2" y2="300.4" stroke="#222" stroke-width="1.1"/>
<text x="261.5" y="307.9" font-size="6.0" text-anchor="middle" font-weight="normal" font-style="normal" fill="#111">EV</text>
<line x1="330.3" y1="227.0" x2="330.3" y2="285.9" stroke="#111" stroke-width="1.1"/>
<line x1="326.1" y1="285.59999999999997" x2="404.6" y2="285.59999999999997" stroke="#111" stroke-width="1.25"/>
<line x1="326.1" y1="266.29999999999995" x2="330.3" y2="266.29999999999995" stroke="#111" stroke-width="1.0"/>
<text x="323.7" y="268.4" font-size="5.7" text-anchor="end" font-weight="bold" font-style="normal" fill="#111">50</text>
<line x1="326.1" y1="247.2" x2="330.3" y2="247.2" stroke="#111" stroke-width="1.0"/>
<text x="323.7" y="249.29999999999998" font-size="5.7" text-anchor="end" font-weight="bold" font-style="normal" fill="#111">100</text>
<line x1="326.1" y1="228.09999999999997" x2="330.3" y2="228.09999999999997" stroke="#111" stroke-width="1.0"/>
<text x="323.7" y="230.19999999999996" font-size="5.7" text-anchor="end" font-weight="bold" font-style="normal" fill="#111">150</text>
<rect x="334.80" y="247.20" width="7.60" height="38.20" fill="#d7d7d7" stroke="none" stroke-width="0"/>
<line x1="338.6" y1="232.30199999999996" x2="338.6" y2="247.2" stroke="#111" stroke-width="0.8"/>
<line x1="336.1" y1="232.30199999999996" x2="341.1" y2="232.30199999999996" stroke="#111" stroke-width="0.8"/>
<line x1="338.6" y1="285.09999999999997" x2="338.6" y2="289.5" stroke="#111" stroke-width="1.0"/>
<circle cx="338.6" cy="232.3" r="1.25" fill="#111"/>
<circle cx="338.6" cy="244.1" r="1.25" fill="#111"/>
<circle cx="338.6" cy="246.4" r="1.25" fill="#111"/>
<circle cx="338.6" cy="267.4" r="1.25" fill="#111"/>
<rect x="346.30" y="272.41" width="7.60" height="12.99" fill="#d7d7d7" stroke="none" stroke-width="0"/>
<line x1="350.1" y1="265.154" x2="350.1" y2="272.412" stroke="#111" stroke-width="0.8"/>
<line x1="347.6" y1="265.154" x2="352.6" y2="265.154" stroke="#111" stroke-width="0.8"/>
<line x1="350.1" y1="285.09999999999997" x2="350.1" y2="289.5" stroke="#111" stroke-width="1.0"/>
<circle cx="350.1" cy="265.2" r="1.25" fill="#111"/>
<circle cx="350.1" cy="270.9" r="1.25" fill="#111"/>
<circle cx="350.1" cy="276.4" r="1.25" fill="#111"/>
<circle cx="350.1" cy="280.5" r="1.25" fill="#111"/>
<rect x="358.00" y="247.20" width="7.60" height="38.20" fill="#d7d7d7" stroke="none" stroke-width="0"/>
<line x1="361.8" y1="236.88599999999997" x2="361.8" y2="247.2" stroke="#111" stroke-width="0.8"/>
<line x1="359.3" y1="236.88599999999997" x2="364.3" y2="236.88599999999997" stroke="#111" stroke-width="0.8"/>
<line x1="361.8" y1="285.09999999999997" x2="361.8" y2="289.5" stroke="#111" stroke-width="1.0"/>
<circle cx="361.8" cy="233.1" r="1.25" fill="#111"/>
<circle cx="361.8" cy="246.1" r="1.25" fill="#111"/>
<circle cx="359.2" cy="253.7" r="1.25" fill="#111"/>
<circle cx="364.4" cy="253.7" r="1.25" fill="#111"/>
<rect x="369.50" y="247.01" width="7.60" height="38.39" fill="#d7d7d7" stroke="none" stroke-width="0"/>
<line x1="373.3" y1="236.88599999999997" x2="373.3" y2="247.009" stroke="#111" stroke-width="0.8"/>
<line x1="370.8" y1="236.88599999999997" x2="375.8" y2="236.88599999999997" stroke="#111" stroke-width="0.8"/>
<line x1="373.3" y1="285.09999999999997" x2="373.3" y2="289.5" stroke="#111" stroke-width="1.0"/>
<circle cx="373.3" cy="233.1" r="1.25" fill="#111"/>
<circle cx="373.3" cy="246.1" r="1.25" fill="#111"/>
<circle cx="373.3" cy="251.4" r="1.25" fill="#111"/>
<circle cx="373.3" cy="254.8" r="1.25" fill="#111"/>
<rect x="381.00" y="248.15" width="7.60" height="37.24" fill="#d7d7d7" stroke="none" stroke-width="0"/>
<line x1="384.8" y1="238.414" x2="384.8" y2="248.15499999999997" stroke="#111" stroke-width="0.8"/>
<line x1="382.3" y1="238.414" x2="387.3" y2="238.414" stroke="#111" stroke-width="0.8"/>
<line x1="384.8" y1="285.09999999999997" x2="384.8" y2="289.5" stroke="#111" stroke-width="1.0"/>
<circle cx="384.8" cy="234.2" r="1.25" fill="#111"/>
<circle cx="384.8" cy="250.6" r="1.25" fill="#111"/>
<circle cx="382.5" cy="253.7" r="1.25" fill="#111"/>
<circle cx="387.1" cy="253.7" r="1.25" fill="#111"/>
<rect x="392.60" y="249.11" width="7.60" height="36.29" fill="#d7d7d7" stroke="none" stroke-width="0"/>
<line x1="396.4" y1="242.61599999999999" x2="396.4" y2="249.10999999999999" stroke="#111" stroke-width="0.8"/>
<line x1="393.9" y1="242.61599999999999" x2="398.9" y2="242.61599999999999" stroke="#111" stroke-width="0.8"/>
<line x1="396.4" y1="285.09999999999997" x2="396.4" y2="289.5" stroke="#111" stroke-width="1.0"/>
<circle cx="396.4" cy="240.7" r="1.25" fill="#111"/>
<circle cx="396.4" cy="248.7" r="1.25" fill="#111"/>
<circle cx="396.4" cy="252.5" r="1.25" fill="#111"/>
<circle cx="396.4" cy="255.6" r="1.25" fill="#111"/>
<text x="348.8" y="260.6" font-size="7.5" text-anchor="middle" font-weight="normal" font-style="normal" fill="#444">*</text>
<text x="373.3" y="228.6" font-size="5.6" text-anchor="middle" font-weight="normal" font-style="normal" fill="#444">#</text>
<text x="396.4" y="236.8" font-size="5.6" text-anchor="middle" font-weight="normal" font-style="normal" fill="#444">#</text>
<text x="338.6" y="297.7" font-size="6.3" text-anchor="middle" font-weight="normal" font-style="normal" fill="#111">V</text>
<text x="350.1" y="297.7" font-size="6.3" text-anchor="middle" font-weight="normal" font-style="normal" fill="#111">HP</text>
<text x="361.8" y="297.7" font-size="6.3" text-anchor="middle" font-weight="normal" font-style="normal" fill="#111">V</text>
<text x="373.3" y="297.7" font-size="6.3" text-anchor="middle" font-weight="normal" font-style="normal" fill="#111">HP</text>
<text x="384.8" y="297.7" font-size="6.3" text-anchor="middle" font-weight="normal" font-style="normal" fill="#111">V</text>
<text x="396.4" y="297.7" font-size="6.3" text-anchor="middle" font-weight="normal" font-style="normal" fill="#111">HP</text>
<line x1="338.5" y1="300.5" x2="355.5" y2="300.5" stroke="#222" stroke-width="0.8"/>
<text x="347.0" y="308.6" font-size="6.0" text-anchor="middle" font-weight="normal" font-style="normal" fill="#111">WT</text>
<line x1="360" y1="300.5" x2="378.2" y2="300.5" stroke="#222" stroke-width="0.8"/>
<text x="369.1" y="308.6" font-size="6.0" text-anchor="middle" font-weight="normal" font-style="normal" fill="#111">C150S</text>
<line x1="382.7" y1="300.5" x2="401.2" y2="300.5" stroke="#222" stroke-width="0.8"/>
<text x="391.95" y="308.6" font-size="6.0" text-anchor="middle" font-weight="normal" font-style="normal" fill="#111">C157S</text>
<text x="303.2" y="252" font-size="5.9" text-anchor="middle" font-weight="normal" font-style="normal" fill="#111" transform="rotate(-90 303.2 252)">HSC70 co-IP with</text>
<text x="308.2" y="252" font-size="5.9" text-anchor="middle" font-weight="normal" font-style="normal" fill="#111" transform="rotate(-90 308.2 252)">REDD1 (% Control)</text>
<line x1="463.1" y1="202.0" x2="463.1" y2="245.8" stroke="#111" stroke-width="1.15"/>
<line x1="457.3" y1="245.20000000000002" x2="504" y2="245.20000000000002" stroke="#111" stroke-width="1.4"/>
<line x1="457.3" y1="231.025" x2="463.1" y2="231.025" stroke="#111" stroke-width="1.0"/>
<text x="455.70000000000005" y="233.125" font-size="5.7" text-anchor="end" font-weight="bold" font-style="normal" fill="#111">50</text>
<line x1="457.3" y1="216.75" x2="463.1" y2="216.75" stroke="#111" stroke-width="1.0"/>
<text x="455.70000000000005" y="218.85" font-size="5.7" text-anchor="end" font-weight="bold" font-style="normal" fill="#111">100</text>
<line x1="457.3" y1="202.47500000000002" x2="463.1" y2="202.47500000000002" stroke="#111" stroke-width="1.0"/>
<text x="455.70000000000005" y="204.57500000000002" font-size="5.7" text-anchor="end" font-weight="bold" font-style="normal" fill="#111">150</text>
<rect x="465.50" y="216.75" width="6.40" height="28.55" fill="#d7d7d7" stroke="none" stroke-width="0"/>
<line x1="468.7" y1="214.18050000000002" x2="468.7" y2="220.17600000000002" stroke="#111" stroke-width="0.7"/>
<line x1="466.7" y1="214.18050000000002" x2="470.7" y2="214.18050000000002" stroke="#111" stroke-width="0.7"/>
<line x1="466.7" y1="220.17600000000002" x2="470.7" y2="220.17600000000002" stroke="#111" stroke-width="0.7"/>
<line x1="468.7" y1="245.3" x2="468.7" y2="250.3" stroke="#111" stroke-width="1.1"/>
<circle cx="468.7" cy="212.6" r="1.4" fill="#111"/>
<circle cx="466.9" cy="217.0" r="1.4" fill="#111"/>
<circle cx="470.5" cy="217.6" r="1.4" fill="#111"/>
<circle cx="468.7" cy="222.0" r="1.4" fill="#111"/>
<rect x="474.80" y="240.16" width="6.40" height="5.14" fill="#d7d7d7" stroke="none" stroke-width="0"/>
<line x1="478.0" y1="238.73350000000002" x2="478.0" y2="241.0175" stroke="#111" stroke-width="0.7"/>
<line x1="476.0" y1="238.73350000000002" x2="480.0" y2="238.73350000000002" stroke="#111" stroke-width="0.7"/>
<line x1="476.0" y1="241.0175" x2="480.0" y2="241.0175" stroke="#111" stroke-width="0.7"/>
<line x1="478.0" y1="245.3" x2="478.0" y2="250.3" stroke="#111" stroke-width="1.1"/>
<circle cx="476.3" cy="240.0" r="1.4" fill="#111"/>
<circle cx="478.0" cy="238.6" r="1.4" fill="#111"/>
<circle cx="479.9" cy="240.0" r="1.4" fill="#111"/>
<rect x="484.50" y="241.02" width="6.40" height="4.28" fill="#d7d7d7" stroke="none" stroke-width="0"/>
<line x1="487.7" y1="240.161" x2="487.7" y2="241.5885" stroke="#111" stroke-width="0.7"/>
<line x1="485.7" y1="240.161" x2="489.7" y2="240.161" stroke="#111" stroke-width="0.7"/>
<line x1="485.7" y1="241.5885" x2="489.7" y2="241.5885" stroke="#111" stroke-width="0.7"/>
<line x1="487.7" y1="245.3" x2="487.7" y2="250.3" stroke="#111" stroke-width="1.1"/>
<circle cx="485.9" cy="240.9" r="1.4" fill="#111"/>
<circle cx="487.7" cy="240.3" r="1.4" fill="#111"/>
<circle cx="489.5" cy="240.9" r="1.4" fill="#111"/>
<rect x="493.90" y="242.16" width="6.40" height="3.14" fill="#d7d7d7" stroke="none" stroke-width="0"/>
<line x1="497.1" y1="240.732" x2="497.1" y2="243.01600000000002" stroke="#111" stroke-width="0.7"/>
<line x1="495.1" y1="240.732" x2="499.1" y2="240.732" stroke="#111" stroke-width="0.7"/>
<line x1="495.1" y1="243.01600000000002" x2="499.1" y2="243.01600000000002" stroke="#111" stroke-width="0.7"/>
<line x1="497.1" y1="245.3" x2="497.1" y2="250.3" stroke="#111" stroke-width="1.1"/>
<circle cx="495.3" cy="240.3" r="1.4" fill="#111"/>
<circle cx="497.1" cy="242.4" r="1.4" fill="#111"/>
<circle cx="498.7" cy="241.7" r="1.4" fill="#111"/>
<text x="478.0" y="236.6" font-size="7" text-anchor="middle" font-weight="normal" font-style="normal" fill="#444">*</text>
<text x="487.4" y="236.0" font-size="5.6" text-anchor="middle" font-weight="normal" font-style="normal" fill="#444">#</text>
<text x="429.0" y="217.8" font-size="5.85" text-anchor="middle" font-weight="normal" font-style="normal" fill="#111" transform="rotate(-90 429.0 217.8)">HSC70 co-IP with</text>
<text x="435.7" y="217.8" font-size="5.85" text-anchor="middle" font-weight="normal" font-style="normal" fill="#111" transform="rotate(-90 435.7 217.8)">REDD1 (% Control)</text>
<rect x="462.80" y="250.80" width="40.00" height="11.40" fill="#b4b4b4" stroke="none" stroke-width="0"/>
<rect x="462.80" y="266.60" width="40.00" height="12.80" fill="#dcdcdc" stroke="none" stroke-width="0"/>
<rect x="462.80" y="283.80" width="40.00" height="10.60" fill="#d6d6d6" stroke="none" stroke-width="0"/>
<rect x="462.80" y="297.80" width="40.00" height="11.10" fill="#dedede" stroke="none" stroke-width="0"/>
<clipPath id="clipF"><rect x="462.8" y="250" width="40.0" height="60"/></clipPath><g clip-path="url(#clipF)">
<rect x="464.20" y="255.20" width="8.60" height="3.60" rx="1.64" fill="#000" opacity="1" filter="url(#b05)"/>
<rect x="473.60" y="256.20" width="8.00" height="2.40" rx="1.09" fill="#555" opacity="0.45" filter="url(#b05)"/>
<rect x="483.60" y="256.20" width="8.00" height="2.40" rx="1.09" fill="#555" opacity="0.45" filter="url(#b05)"/>
<rect x="493.60" y="256.20" width="8.00" height="2.40" rx="1.09" fill="#555" opacity="0.45" filter="url(#b05)"/>
<rect x="463.50" y="271.60" width="8.80" height="3.60" rx="1.64" fill="#111" opacity="0.9" filter="url(#b08)"/>
<rect x="473.20" y="271.30" width="8.80" height="4.20" rx="1.91" fill="#111" opacity="1" filter="url(#b08)"/>
<rect x="483.20" y="271.30" width="8.80" height="4.20" rx="1.91" fill="#111" opacity="1" filter="url(#b08)"/>
<rect x="493.20" y="271.50" width="8.80" height="3.80" rx="1.73" fill="#111" opacity="0.95" filter="url(#b08)"/>
<rect x="463.20" y="287.45" width="9.40" height="3.90" rx="1.77" fill="#000" opacity="1" filter="url(#b06)"/>
<rect x="472.90" y="287.35" width="9.40" height="4.10" rx="1.86" fill="#000" opacity="1" filter="url(#b06)"/>
<rect x="482.90" y="287.45" width="9.40" height="3.90" rx="1.77" fill="#000" opacity="1" filter="url(#b06)"/>
<rect x="492.90" y="287.55" width="9.40" height="3.70" rx="1.68" fill="#000" opacity="1" filter="url(#b06)"/>
<rect x="463.40" y="302.15" width="9.00" height="3.30" rx="1.50" fill="#000" opacity="0.95" filter="url(#b06)"/>
<rect x="473.10" y="302.15" width="9.00" height="3.30" rx="1.50" fill="#000" opacity="0.95" filter="url(#b06)"/>
<rect x="483.10" y="302.15" width="9.00" height="3.30" rx="1.50" fill="#000" opacity="0.95" filter="url(#b06)"/>
<rect x="493.10" y="302.15" width="9.00" height="3.30" rx="1.50" fill="#000" opacity="0.95" filter="url(#b06)"/>
</g>
<text x="460.8" y="259.4" font-size="6.0" text-anchor="end" font-weight="normal" font-style="normal" fill="#111">HSC70</text>
<text x="460.8" y="271.8" font-size="6.0" text-anchor="end" font-weight="normal" font-style="normal" fill="#111">FLAG-</text>
<text x="460.8" y="278.6" font-size="6.0" text-anchor="end" font-weight="normal" font-style="normal" fill="#111">REDD1</text>
<text x="460.8" y="291.6" font-size="6.0" text-anchor="end" font-weight="normal" font-style="normal" fill="#111">HSC70</text>
<text x="460.8" y="301.8" font-size="6.0" text-anchor="end" font-weight="normal" font-style="normal" fill="#111">FLAG-</text>
<text x="460.8" y="308.6" font-size="6.0" text-anchor="end" font-weight="normal" font-style="normal" fill="#111">REDD1</text>
<line x1="435.3" y1="251" x2="435.3" y2="280.8" stroke="#222" stroke-width="1.2"/>
<line x1="435.3" y1="284" x2="435.3" y2="310.2" stroke="#222" stroke-width="1.2"/>
<text x="431.8" y="265.6" font-size="5.8" text-anchor="middle" font-weight="normal" font-style="normal" fill="#111" transform="rotate(-90 431.8 265.6)">IP: FLAG</text>
<text x="431.8" y="296.8" font-size="5.8" text-anchor="middle" font-weight="normal" font-style="normal" fill="#111" transform="rotate(-90 431.8 296.8)">WCL</text>
<text x="504.4" y="258.6" font-size="5.8" text-anchor="start" font-weight="normal" font-style="italic" fill="#111">-70</text>
<text x="504.4" y="274.2" font-size="5.8" text-anchor="start" font-weight="normal" font-style="italic" fill="#111">-30</text>
<text x="504.4" y="289.4" font-size="5.8" text-anchor="start" font-weight="normal" font-style="italic" fill="#111">-70</text>
<text x="504.4" y="305.4" font-size="5.8" text-anchor="start" font-weight="normal" font-style="italic" fill="#111">-30</text>
<text x="466.2" y="317.0" font-size="6.0" text-anchor="middle" font-weight="normal" font-style="normal" fill="#111">V</text>
<text x="476.2" y="317.0" font-size="6.0" text-anchor="middle" font-weight="normal" font-style="normal" fill="#111">HP</text>
<text x="486.6" y="317.0" font-size="6.0" text-anchor="middle" font-weight="normal" font-style="normal" fill="#111">V</text>
<text x="496.6" y="317.0" font-size="6.0" text-anchor="middle" font-weight="normal" font-style="normal" fill="#111">HP</text>
<line x1="463.3" y1="320.3" x2="479.8" y2="320.3" stroke="#222" stroke-width="0.8"/>
<text x="471.55" y="328.0" font-size="5.9" text-anchor="middle" font-weight="normal" font-style="normal" fill="#111">WT</text>
<line x1="483.4" y1="320.3" x2="501.8" y2="320.3" stroke="#222" stroke-width="0.8"/>
<text x="492.6" y="328.0" font-size="5.9" text-anchor="middle" font-weight="normal" font-style="normal" fill="#111">K129R</text>
</svg>
</body></html>
